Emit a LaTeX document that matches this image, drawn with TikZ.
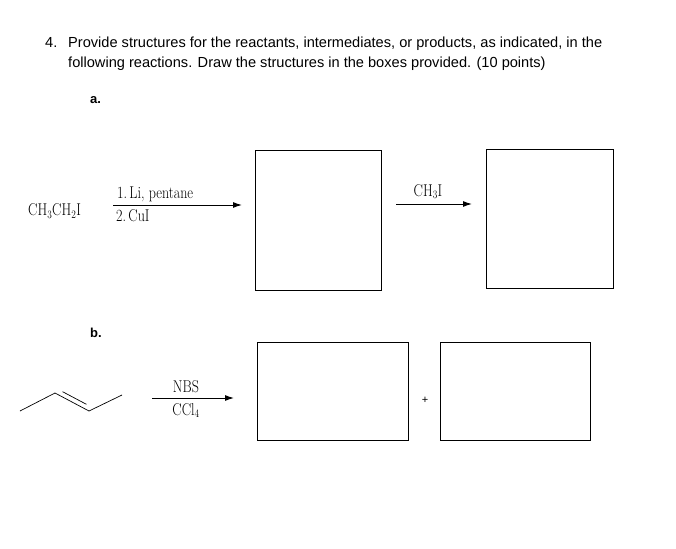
\documentclass[tikz,border=0pt]{standalone}
\usepackage{fontspec}
\usetikzlibrary{arrows.meta,calc}
\newfontfamily\titlefont{Liberation Sans}
\begin{document}
\begin{tikzpicture}[x=1pt,y=-1pt,
  ttl/.style={font=\titlefont\fontsize{14.6}{17}\selectfont,anchor=base west,inner sep=0},
  chem/.style={font=\fontsize{18}{20}\selectfont,inner sep=0,xscale=0.78,yscale=0.95},
  box/.style={draw,line width=1pt},
  rxn/.style={line width=1pt,-{Latex[length=9pt,width=6pt]}}]
\useasboundingbox (0,0) rectangle (676,548);
\node[ttl] (n4) at (45,48) {4.};
\node[ttl] (l1) at (68,48) {Provide structures for the reactants, intermediates, or products, as indicated, in the};
\node[ttl] (l2) at (68,68) {following reactions. Draw the structures in the boxes provided. (10 points)};
\node[ttl,font=\titlefont\bfseries\fontsize{13}{15}\selectfont] (la) at (90,104) {a.};
\node[ttl,font=\titlefont\bfseries\fontsize{13}{15}\selectfont] (lb) at (90,337) {b.};
% part a
\node[chem,anchor=west] (r) at (28,211) {CH$_3$CH$_2$I};
\coordinate (a1s) at (113,205);
\coordinate (a1e) at (242,205);
\draw[rxn] (a1s) -- (a1e);
\node[chem,anchor=south west] (c1) at (117,202) {1.\,Li, pentane};
\node[chem,anchor=north west] (c2) at (116,209) {2.\,CuI};
\node[box,minimum width=126,minimum height=140,anchor=north west] (b1) at (255,150) {};
\coordinate (a2s) at (396,204);
\coordinate (a2e) at (472,204);
\draw[rxn] (a2s) -- (a2e);
\node[chem,anchor=south] (c3) at (428,199) {CH$_3$I};
\node[box,minimum width=127,minimum height=139,anchor=north west] (b2) at (486,149) {};
% part b
\coordinate (p1) at (20,411);
\coordinate (p2) at (55,393);
\coordinate (p3) at (89,411);
\coordinate (p4) at (122,395);
\draw[line width=0.7pt] (p1) -- (p2) -- (p3) -- (p4);
\draw[line width=0.7pt] ($(p2)!0.15!(p3)+(2.5,-4)$) -- ($(p2)!0.85!(p3)+(2.5,-4)$);
\coordinate (b1s) at (152,398);
\coordinate (b1e) at (234,398);
\draw[rxn] (b1s) -- (b1e);
\node[chem,anchor=south] (c4) at (186,393) {NBS};
\node[chem,anchor=north] (c5) at (186,403) {CCl$_4$};
\node[box,minimum width=151,minimum height=98,anchor=north west] (b3) at (257,342) {};
\node[font=\titlefont\fontsize{11}{13}\selectfont] (plus) at (425,400) {+};
\node[box,minimum width=150,minimum height=98,anchor=north west] (b4) at (440,342) {};
\end{tikzpicture}
\end{document}
